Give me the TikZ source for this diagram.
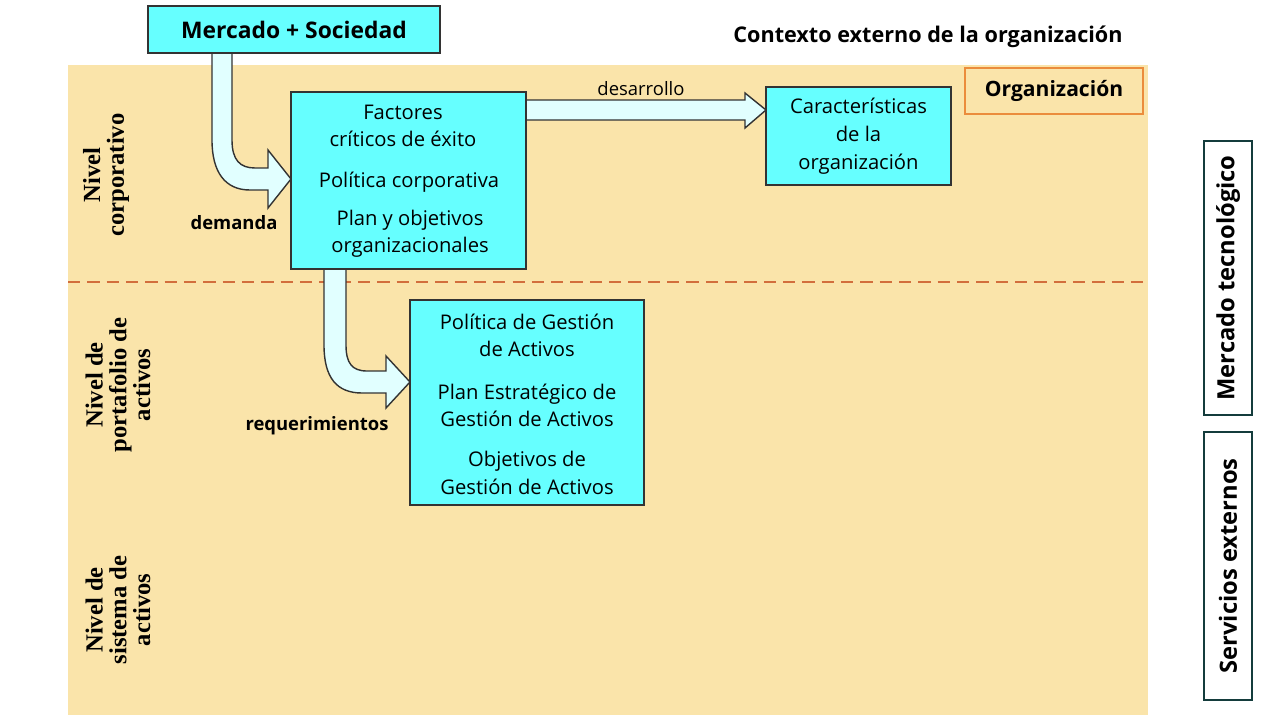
\documentclass[tikz,border=0pt]{standalone}
\usepackage{fontspec}
\setmainfont{Open Sans}
\newfontfamily\serifb{Liberation Serif}
\definecolor{tanbg}{RGB}{250,228,170}
\definecolor{cyb}{RGB}{102,255,255}
\definecolor{lcy}{RGB}{225,255,255}
\definecolor{dashc}{RGB}{210,110,60}
\definecolor{orgc}{RGB}{235,140,60}
\definecolor{sidec}{RGB}{20,60,60}
\begin{document}
\begin{tikzpicture}[x=0.02cm,y=-0.02cm,
  cyanbox/.style={draw=black!80,line width=0.8pt,fill=cyb,inner sep=0pt,align=center,font=\fontsize{11.5}{15.5}\selectfont},
  blk/.style={draw=black!80,line width=0.8pt,fill=lcy},
  side/.style={draw=sidec,line width=0.9pt,fill=white,inner sep=0pt},
  lvl/.style={rotate=90,align=center,font=\serifb\bfseries\fontsize{14}{13.5}\selectfont},
  lab/.style={font=\bfseries\fontsize{10.5}{12}\selectfont},
  txt/.style={align=center,font=\fontsize{11.5}{15.5}\selectfont}]
\useasboundingbox (0,0) rectangle (1280,720);
\fill[white] (0,0) rectangle (1280,720);
\fill[tanbg] (68,65) rectangle (1148,715);
\draw[dashc,line width=1.2pt,dash pattern=on 7pt off 4pt] (68,282) -- (1148,282);

% block arrows
\draw[blk] (212,53) -- (212,140) .. controls (212,172) and (225,190) .. (250,190) -- (268,190) -- (268,208) -- (291,179) -- (268,150) -- (268,168) -- (255,168) .. controls (240,168) and (232,160) .. (232,140) -- (232,53) -- cycle;
\draw[blk] (324,269) -- (324,345) .. controls (324,378) and (337,393) .. (362,393) -- (386,393) -- (386,408) -- (410,382) -- (386,356) -- (386,371) -- (367,371) .. controls (352,371) and (346,363) .. (346,345) -- (346,269) -- cycle;
\draw[blk] (526,100) -- (745,100) -- (745,93) -- (766,110) -- (745,128) -- (745,120) -- (526,120) -- cycle;

\node[cyanbox,font=\bfseries\fontsize{13}{15}\selectfont,minimum width=5.84cm,minimum height=0.94cm] (ms) at (294,29.5) {Mercado + Sociedad};
\node[cyanbox,minimum width=4.7cm,minimum height=3.54cm] (fc) at (408.5,180.5) {};
\node[txt] (fc1) at (403,126) {Factores\\críticos de éxito};
\node[txt] (fc2) at (409,182) {Política corporativa};
\node[txt] (fc3) at (410,234) {Plan y objetivos\\organizacionales};
\node[cyanbox,minimum width=3.7cm,minimum height=1.96cm,font=\fontsize{11.5}{16}\selectfont] (car) at (858.5,136) {Características\\de la\\organización};
\node[draw=orgc,line width=1.4pt,fill=tanbg,minimum width=3.56cm,minimum height=0.92cm,font=\bfseries\fontsize{12}{14}\selectfont] (org) at (1054,91) {Organización};
\node[cyanbox,minimum width=4.68cm,minimum height=4.1cm] (ga) at (527,402.5) {};
\node[txt] (ga1) at (527,335) {Política de Gestión\\de Activos};
\node[txt] (ga2) at (527,405) {Plan Estratégico de\\Gestión de Activos};
\node[txt] (ga3) at (527,473) {Objetivos de\\Gestión de Activos};

\node[font=\bfseries\fontsize{12.3}{14}\selectfont] (ctx) at (928,37) {Contexto externo de la organización};
\node[font=\fontsize{10.5}{12}\selectfont] (des) at (641,89) {desarrollo};
\node[lab] (dem) at (234,223) {demanda};
\node[lab] (req) at (317,426) {requerimientos};

\node[side,minimum width=5.48cm,minimum height=0.96cm,rotate=90,font=\fontsize{13.5}{14}\selectfont\bfseries] (mt) at (1228,278) {Mercado tecnológico};
\node[side,minimum width=5.36cm,minimum height=0.96cm,rotate=90,font=\fontsize{13.5}{14}\selectfont\bfseries] (se) at (1228,566) {Servicios externos};

\node[lvl] (l1) at (106,175) {Nivel\\corporativo};
\node[lvl] (l2) at (118,385) {Nivel de\\portafolio de\\activos};
\node[lvl] (l3) at (118,610) {Nivel de\\sistema de\\activos};
\end{tikzpicture}
\end{document}
